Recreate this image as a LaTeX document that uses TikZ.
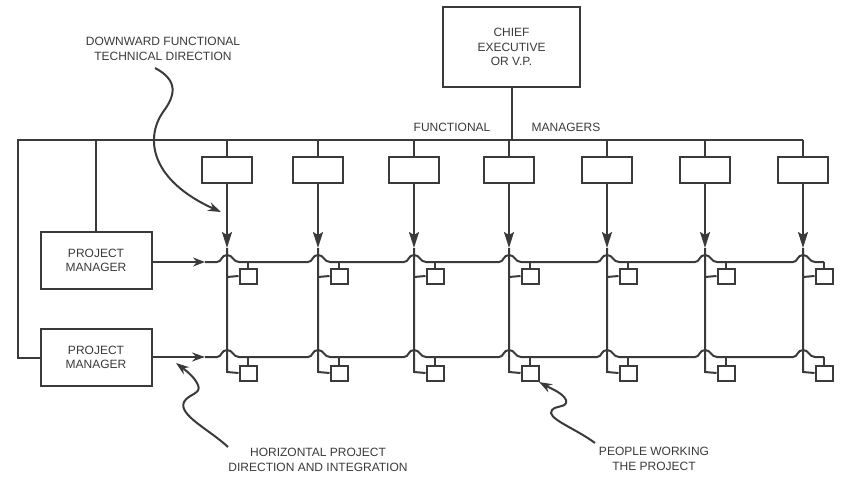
\documentclass[tikz,border=0pt]{standalone}
\usepackage{fontspec}
\setmainfont{Liberation Sans}
\usetikzlibrary{arrows.meta}
\definecolor{ln}{HTML}{3A3A3A}
\begin{document}
\begin{tikzpicture}[x=1pt,y=-1pt,line width=2pt,draw=ln,
  boxst/.style={draw=ln,line width=2pt,inner sep=0pt,fill=white},
  fbox/.style={boxst,minimum width=50pt,minimum height=26pt},
  pmbox/.style={boxst,minimum width=111pt,minimum height=57pt,align=center,font=\fontsize{12}{14}\selectfont,text=ln},
  person/.style={boxst,minimum width=17pt,minimum height=15pt},
  lbl/.style={align=center,font=\fontsize{12}{14.5}\selectfont,text=ln,inner sep=1pt},
  bigtip/.style={-{Stealth[length=13pt,width=9pt]}},
  downtip/.style={-{Stealth[length=16pt,width=10pt,inset=3pt]}},
  rowtip/.style={-{Stealth[length=12pt,width=9pt,inset=4pt]}}]
\useasboundingbox (0,0) rectangle (850,479);
% chief
\node[boxst,minimum width=137pt,minimum height=80pt,align=center,font=\fontsize{12}{14.5}\selectfont,text=ln] (chief) at (511.5,47) {CHIEF\\EXECUTIVE\\OR V.P.};
\coordinate (bl) at (18,140);
\coordinate (br) at (803,140);
\coordinate (r1) at (0,262);
\coordinate (r2) at (0,357);
% project managers
\node[pmbox] (pm1) at (96,260.5) {PROJECT\\MANAGER};
\node[pmbox] (pm2) at (96,357.5) {PROJECT\\MANAGER};
% bus
\draw (pm2.west) -| (bl) -- (br);
\draw (chief.south) -- (chief.south |- bl);
\draw (pm1.north) -- (pm1.north |- bl);
% columns
\foreach \x [count=\i] in {227,318,414,509,607,705,803} {
  \node[fbox] (f\i) at (\x,170) {};
  \draw (f\i.north |- bl) -- (f\i.north);
  \coordinate (t\i) at (\x,248);
  \draw[downtip] (f\i.south) -- (t\i);
  \node[person] (pa\i) at (\x+21,276) {};
  \node[person] (pb\i) at (\x+21,373) {};
  \draw (t\i) -- (\x,372) -- (pb\i.west);
  \draw (\x,277) -- (pa\i.west);
}
% rows
\coordinate (a1) at (205,262);
\coordinate (a2) at (205,357);
\draw[rowtip] (pm1.east |- r1) -- (a1);
\draw[bigtip] (pm2.east |- r2) -- (a2);
\draw (a1) \foreach \x in {227,318,414,509,607,705,803} {
  -- (\x-10,262) .. controls (\x-5,262) and (\x-6,255) .. (\x,255) .. controls (\x+6,255) and (\x+6,262) .. (\x+12,262) } -- (pa7.north |- r1);
\draw (a2) \foreach \x in {227,318,414,509,607,705,803} {
  -- (\x-10,357) .. controls (\x-5,357) and (\x-6,350) .. (\x,350) .. controls (\x+6,350) and (\x+6,357) .. (\x+12,357) } -- (pb7.north |- r2);
\foreach \i in {1,...,7} {
  \draw (pa\i.north) -- (pa\i.north |- r1);
  \draw (pb\i.north) -- (pb\i.north |- r2);
}
% labels
\node[lbl] (lfm1) at (452,127) {FUNCTIONAL};
\node[lbl] (lfm2) at (566,127) {MANAGERS};
\node[lbl] (ldown) at (163,49) {DOWNWARD FUNCTIONAL\\TECHNICAL DIRECTION};
\node[lbl] (lhor) at (318,460) {HORIZONTAL PROJECT\\DIRECTION AND INTEGRATION};
\node[lbl] (lpeo) at (654,459) {PEOPLE WORKING\\THE PROJECT};
% curved pointers
\coordinate (c1) at (221,212);
\coordinate (c2) at (176,363);
\coordinate (c3) at (539,382);
\draw[bigtip] (155,68) .. controls (178,80) and (176,95) .. (163,112) .. controls (145,138) and (150,180) .. (c1);
\draw[bigtip] (228,447) .. controls (210,430) and (178,415) .. (184,402) .. controls (188,394) and (202,394) .. (198,385) .. controls (195,378) and (188,372) .. (c2);
\draw[bigtip] (595,443) .. controls (575,428) and (545,418) .. (552,410) .. controls (556,405) and (568,408) .. (566,400) .. controls (563,393) and (550,388) .. (c3);
\end{tikzpicture}
\end{document}
